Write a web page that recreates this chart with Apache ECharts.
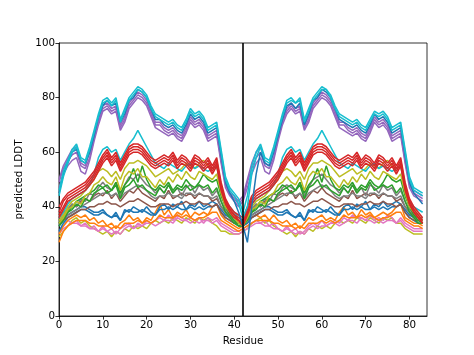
<!DOCTYPE html>
<html><head><meta charset="utf-8">
<script src="https://cdn.jsdelivr.net/npm/echarts@6/dist/echarts.min.js"></script>
<style>html,body{margin:0;padding:0;background:#fff}#c{width:474px;height:355px}</style>
</head><body><div id="c"></div>
<script>
const chainBoundary = 42;
const xTicks = [0,10,20,30,40,50,60,70,80];
const yTicks = [0,20,40,60,80,100];

const oliveLow = [29,31,33,35,36,34,35,33,32,31,30,31,29,31,30,32,31,33,32,33,32,34,35,34,35,34,36,35,34,36,35,34,36,35,36,34,33,31,31,30,30,30,
  31,32,34,35,36,34,35,33,32,31,30,31,29,31,30,32,31,33,32,33,32,34,35,34,35,34,36,35,34,36,35,34,36,35,36,34,34,32,31,30,30,30];
const pink1 = [31,33,35,34,35,33,34,32,33,31,33,31,32,30,32,33,34,32,34,33,35,34,35,36,35,37,35,37,36,35,36,35,36,34,36,35,36,34,33,32,31,31,
  32,33,34,35,34,35,33,34,32,31,33,31,32,30,31,33,34,33,35,33,34,35,34,36,35,37,36,36,35,37,35,36,35,37,36,34,36,34,33,32,32,32];
const pink2 = [30,32,33,34,34,33,33,32,32,31,32,31,30,31,30,32,33,32,33,33,34,34,33,34,35,35,34,36,35,35,34,35,34,35,35,34,35,33,32,31,30,30,
  31,32,33,34,34,33,33,32,32,31,32,31,30,31,30,32,33,32,33,33,34,34,33,34,35,35,34,36,35,35,34,35,34,35,35,34,35,33,32,31,31,31];
const orange1 = [30,33,35,36,37,36,37,35,36,34,35,33,34,32,34,35,37,35,36,34,36,35,38,41,37,39,36,38,37,39,36,38,37,38,37,40,41,37,35,34,33,32,
  33,34,36,37,36,37,35,37,35,34,35,33,34,32,34,36,35,36,37,35,36,35,38,40,37,38,36,39,37,38,36,37,38,37,38,40,41,36,35,34,34,33];
const orange2 = [27,31,33,34,35,35,35,34,34,33,33,33,32,33,32,34,34,34,35,34,35,34,35,37,36,36,36,37,36,37,36,35,36,36,37,38,38,35,34,33,32,31,
  32,33,34,35,35,35,35,34,34,33,33,33,32,33,32,34,34,34,35,34,35,34,35,37,36,36,36,37,36,37,36,35,36,36,37,38,38,35,34,33,33,32];
const blue1 = [33,35,37,38,39,40,40,39,38,38,39,37,36,38,35,39,38,40,39,38,40,38,37,40,41,39,41,40,42,39,41,40,42,40,41,42,41,39,37,36,35,34,
  34,35,37,38,39,40,40,39,38,38,39,37,36,38,35,39,38,40,39,38,40,38,37,40,41,39,41,40,42,39,41,40,42,40,41,42,41,39,37,36,35,35];
const blue2 = [31,34,36,37,38,39,39,38,37,37,38,37,36,37,35,38,39,38,38,39,38,37,37,39,39,40,39,40,39,39,40,39,40,39,40,40,41,38,36,35,34,33,
  33,34,36,37,38,39,39,38,37,37,38,37,36,37,35,38,39,38,38,39,38,37,37,39,39,40,39,40,39,39,40,39,40,39,40,40,41,38,36,35,34,34];
const brown1 = [36,38,39,41,40,42,43,42,44,45,44,46,43,45,42,44,46,45,47,45,44,43,42,44,43,46,43,44,45,44,45,43,45,44,44,42,43,40,38,37,36,35,
  35,37,39,41,40,42,43,42,44,45,44,46,43,45,42,44,46,45,47,45,44,43,42,44,43,46,43,44,45,44,45,43,45,44,44,42,43,40,38,37,36,36];
const brown2 = [34,35,36,37,38,39,39,40,40,41,41,42,41,41,40,41,42,42,43,42,41,40,40,41,41,41,40,41,41,42,41,41,42,41,41,40,41,38,36,35,34,34,
  34,35,36,37,38,39,39,40,40,41,41,42,41,41,40,41,42,42,43,42,41,40,40,41,41,41,40,41,41,42,41,41,42,41,41,40,41,38,36,35,35,35];
const gray1 = [35,37,39,41,40,43,42,45,44,47,49,47,46,49,44,48,51,50,52,50,48,47,45,47,45,48,45,47,44,47,48,45,48,46,47,44,46,42,39,37,36,35,
  35,38,39,41,40,43,42,45,44,47,48,47,46,49,44,47,50,51,52,50,48,47,45,47,45,48,45,47,44,48,47,45,48,46,47,44,46,42,39,37,36,36];
const gray2 = [34,36,37,38,39,40,41,42,43,44,45,45,44,45,43,45,46,47,48,47,46,44,43,44,44,45,44,44,43,45,45,44,45,44,44,43,44,40,38,36,35,34,
  34,36,37,38,39,40,41,42,43,44,45,45,44,45,43,45,46,47,48,47,46,44,43,44,44,45,44,44,43,45,45,44,45,44,44,43,44,40,38,36,35,35];
const green1 = [34,36,38,40,42,43,44,45,46,48,47,48,46,49,45,48,50,54,49,55,50,47,46,48,47,49,46,48,47,50,48,47,49,52,50,49,50,44,40,37,35,33,
  34,36,38,40,42,43,44,45,46,48,47,48,46,49,45,48,50,54,49,55,50,47,46,48,47,49,46,48,47,50,48,47,49,52,50,49,50,44,40,37,35,34];
const green2 = [33,35,38,39,41,40,43,42,45,46,47,45,46,48,43,47,48,50,47,48,46,45,44,47,45,48,45,47,46,48,46,47,48,47,48,45,47,42,38,36,34,33,
  33,35,38,39,41,40,43,42,45,46,47,45,46,48,43,47,48,50,47,48,46,45,44,47,45,48,45,47,46,49,46,47,48,47,48,45,47,42,38,36,34,34];
const olive1 = [35,37,40,42,43,44,46,48,50,53,54,53,51,53,50,54,56,56,57,56,55,53,51,52,53,54,52,53,54,56,55,54,56,57,55,54,55,47,42,39,37,35,
  34,37,40,42,43,44,46,48,50,53,54,53,51,53,50,54,56,56,57,56,55,53,51,52,53,54,52,53,54,56,55,54,56,57,55,54,55,47,42,39,37,35];
const olive2 = [34,36,39,40,42,41,44,45,48,49,51,49,48,51,46,51,53,52,54,51,51,49,47,50,48,51,49,52,50,53,51,50,53,52,51,50,52,45,40,38,36,34,
  33,36,39,40,42,41,44,45,48,49,51,49,48,51,46,51,53,52,54,51,51,49,47,50,48,51,49,52,50,53,51,50,53,52,51,50,52,45,40,38,36,34];
const cyanMid = [36,38,41,43,44,45,46,48,52,58,61,62,60,61,57,60,63,65,68,65,62,59,56,55,54,56,55,54,53,55,56,54,55,54,53,54,55,47,42,40,38,36,
  35,38,41,43,44,45,46,48,52,58,61,62,60,61,57,60,63,65,68,65,62,59,56,55,54,56,55,54,53,55,56,54,55,54,53,54,55,47,42,40,39,38];
const red4 = [36,39,42,43,44,45,46,48,50,53,56,58,55,57,53,56,59,60,60,59,57,55,54,55,56,55,57,54,56,55,53,56,55,53,55,52,55,46,41,38,36,35,
  33,37,41,43,44,45,46,48,50,53,56,58,55,57,53,56,59,60,60,59,57,55,54,55,56,55,57,54,56,55,53,56,55,53,55,52,55,46,41,38,36,34];
const red3 = [37,40,43,44,45,46,47,49,51,54,57,59,56,58,54,57,60,61,61,60,58,56,55,56,57,56,58,55,57,56,54,57,56,54,56,53,56,47,42,39,37,35,
  34,38,42,44,45,46,47,49,51,54,57,59,56,58,54,57,60,61,61,60,58,56,55,56,57,56,58,55,57,56,54,57,56,54,56,53,56,47,41,38,36,34];
const red2 = [38,42,44,45,46,47,48,50,52,55,58,60,57,59,55,58,61,62,62,61,59,57,56,57,58,57,59,56,58,57,55,58,57,55,57,54,57,48,42,39,37,36,
  35,39,43,45,46,47,48,50,52,55,58,60,57,59,55,58,61,62,62,61,59,57,56,57,58,57,59,56,58,57,55,58,57,55,57,54,57,48,42,39,37,35];
const red1 = [40,43,45,46,47,48,49,51,53,56,59,61,58,60,56,59,62,63,63,62,60,58,57,58,59,58,60,57,59,58,56,59,58,56,58,55,58,49,43,40,38,37,
  36,40,44,46,47,48,49,51,53,56,59,61,58,60,56,59,62,63,63,62,60,58,57,58,59,58,60,57,59,58,56,59,58,56,58,55,58,49,43,40,38,36];
const purpleTop3 = [47,52,55,57,58,53,52,57,64,70,75,76,74,75,68,71,76,78,80,79,77,73,69,68,67,66,67,65,64,67,71,69,70,68,64,65,66,56,47,44,42,40,
  42,47,52,56,58,53,52,57,64,70,74,76,74,75,68,71,76,78,80,79,77,73,69,68,67,66,67,65,64,67,71,69,70,68,64,65,66,56,47,44,43,42];
const purpleTop2 = [49,54,57,59,60,55,54,58,65,71,76,77,75,76,69,72,77,79,81,80,78,74,70,70,68,67,68,66,65,68,72,70,71,69,65,66,67,57,48,45,43,41,
  43,49,54,58,60,55,54,58,65,71,75,77,75,76,69,72,77,79,81,80,78,74,70,70,68,67,68,66,65,68,72,70,71,69,65,66,67,57,48,45,44,43];
const purpleTop1 = [50,55,58,61,62,56,55,60,66,72,77,78,76,77,70,73,78,80,82,81,79,75,71,71,69,68,69,67,66,69,73,71,72,70,66,67,68,58,49,45,44,42,
  44,50,56,60,62,56,55,60,66,72,76,78,76,77,70,73,78,80,82,81,79,75,71,71,69,68,69,67,66,69,73,71,72,70,66,67,68,58,49,46,45,44];
const blueTop = [45,52,56,60,61,57,56,60,66,73,77,79,77,78,71,74,79,80,83,82,80,76,72,72,70,69,70,68,67,70,74,72,73,71,67,68,69,59,49,45,42,38,
  33,27,40,52,60,56,55,60,66,72,77,78,76,78,70,74,79,80,83,82,80,76,72,71,70,69,70,68,67,70,74,72,73,71,67,68,69,59,49,45,43,41];
const cyanTop2 = [44,51,56,60,62,57,56,61,67,73,78,79,77,79,71,75,79,81,83,82,80,76,73,72,71,70,71,69,68,71,75,73,74,72,68,69,70,60,50,46,44,41,
  36,40,52,58,62,57,56,61,67,73,78,79,78,79,71,75,79,81,83,83,80,76,73,72,71,70,71,69,68,71,74,73,74,72,68,69,70,60,50,46,45,44];
const cyanTop1 = [46,53,57,61,63,58,57,62,68,74,79,80,78,80,72,76,80,82,84,83,81,77,74,73,72,71,72,70,69,72,76,74,75,73,69,70,71,61,51,47,45,43,
  38,44,55,60,63,58,57,62,68,74,79,80,78,80,72,76,80,82,84,83,81,77,74,73,72,71,72,70,69,72,75,74,75,73,69,70,71,61,51,47,46,45];

const residues = Array.from({length: oliveLow.length}, (_, i) => i);

const lines = [
  ['oliveLow', '#bcbd22', oliveLow], ['pink1', '#e377c2', pink1], ['pink2', '#e377c2', pink2],
  ['orange1', '#ff7f0e', orange1], ['orange2', '#ff7f0e', orange2],
  ['blue1', '#1f77b4', blue1], ['blue2', '#1f77b4', blue2],
  ['brown1', '#8c564b', brown1], ['brown2', '#8c564b', brown2],
  ['gray1', '#7f7f7f', gray1], ['gray2', '#7f7f7f', gray2],
  ['green1', '#2ca02c', green1], ['green2', '#2ca02c', green2],
  ['olive1', '#bcbd22', olive1], ['olive2', '#bcbd22', olive2],
  ['cyanMid', '#17becf', cyanMid],
  ['red4', '#d62728', red4], ['red3', '#d62728', red3], ['red2', '#d62728', red2], ['red1', '#d62728', red1],
  ['purpleTop3', '#9467bd', purpleTop3], ['purpleTop2', '#9467bd', purpleTop2], ['purpleTop1', '#9467bd', purpleTop1],
  ['blueTop', '#1f77b4', blueTop], ['cyanTop2', '#17becf', cyanTop2], ['cyanTop1', '#17becf', cyanTop1]
];

const font = 'DejaVu Sans';
const series = lines.map(([name, color, vals]) => ({
  name, type: 'line', showSymbol: false, symbol: 'none', silent: true,
  data: vals.map((v, i) => [residues[i], v]),
  lineStyle: {color, width: 1.5}, itemStyle: {color}
}));
series.push({
  type: 'line', data: [], silent: true,
  markLine: {silent: true, symbol: ['none','none'], label: {show: false},
    lineStyle: {color: '#000', width: 1.6, type: 'solid'},
    data: [{xAxis: chainBoundary}]},
  z: 10
});

const chart = echarts.init(document.getElementById('c'), null, {renderer: 'canvas'});
chart.setOption({
  animation: false,
  backgroundColor: '#fff',
  grid: {left: 59, right: 47, top: 43, bottom: 39, show: true, borderColor: '#000', borderWidth: 0.8, backgroundColor: 'transparent'},
  xAxis: {
    type: 'value', min: 0, max: 84, interval: 10,
    name: 'Residue', nameLocation: 'middle', nameGap: 20,
    nameTextStyle: {fontFamily: font, fontSize: 10.3, color: '#000'},
    axisLine: {show: true, lineStyle: {color: '#000', width: 0.8}},
    axisTick: {show: true, length: 3.6, inside: false, lineStyle: {color: '#000', width: 0.8}, customValues: xTicks},
    axisLabel: {fontFamily: font, fontSize: 10.3, color: '#000', margin: 4, customValues: xTicks},
    splitLine: {show: false}
  },
  yAxis: {
    type: 'value', min: 0, max: 100, interval: 20,
    name: 'predicted LDDT', nameLocation: 'middle', nameGap: 27, nameRotate: 90,
    nameTextStyle: {fontFamily: font, fontSize: 10.3, color: '#000'},
    axisLine: {show: true, lineStyle: {color: '#000', width: 0.8}},
    axisTick: {show: true, length: 3.6, lineStyle: {color: '#000', width: 0.8}, customValues: yTicks},
    axisLabel: {fontFamily: font, fontSize: 10.3, color: '#000', margin: 4, customValues: yTicks},
    splitLine: {show: false}
  },
  series
});
</script></body></html>
